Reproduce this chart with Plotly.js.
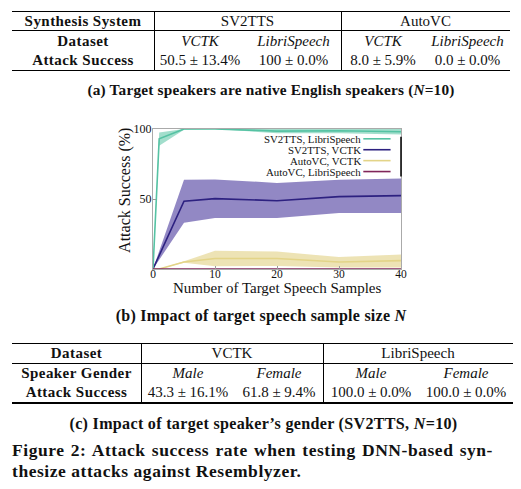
<!DOCTYPE html>
<html>
<head>
<meta charset="utf-8">
<script src="https://cdn.plot.ly/plotly-3.0.1.min.js"></script>
<style>
  html, body { margin: 0; padding: 0; background: #fff; }
  body { width: 521px; height: 489px; position: relative; overflow: hidden;
         font-family: "Liberation Serif", serif; color: #111; }
  .abs { position: absolute; }
  .cell { position: absolute; text-align: center; font-family: "Liberation Serif", serif; font-size: 15px; line-height: 20px; height: 20px; white-space: nowrap; }
  .b { font-weight: bold; letter-spacing: 0.45px; }
  .i { font-style: italic; }
  .rule { position: absolute; background: #000; }
  .cap { position: absolute; text-align: center; font-family: "Liberation Serif", serif; font-weight: bold;
         line-height: 20px; height: 20px; white-space: nowrap; }
  .fig { position: absolute; left: 12px; font-family: "Liberation Serif", serif; font-weight: bold; font-size: 17.5px; line-height: 20px; height: 20px;
         white-space: nowrap; letter-spacing: 0.55px; }
</style>
</head>
<body>
<div id="root"></div>
<div id="chart" class="abs" style="left:90px; top:110px; width:330px; height:195px;"></div>
<script>
// ---------- Table (a) data ----------
const tableA_systems = ["SV2TTS", "AutoVC"];
const tableA_datasets = ["VCTK", "LibriSpeech", "VCTK", "LibriSpeech"];
const tableA_success = ["50.5 ± 13.4%", "100 ± 0.0%", "8.0 ± 5.9%", "0.0 ± 0.0%"];
const tableA_rowLabels = ["Synthesis System", "Dataset", "Attack Success"];

// ---------- Table (c) data ----------
const tableC_datasets = ["VCTK", "LibriSpeech"];
const tableC_genders = ["Male", "Female", "Male", "Female"];
const tableC_success = ["43.3 ± 16.1%", "61.8 ± 9.4%", "100.0 ± 0.0%", "100.0 ± 0.0%"];
const tableC_rowLabels = ["Dataset", "Speaker Gender", "Attack Success"];

// ---------- Chart data ----------
const xAll = [0, 1, 5, 10, 20, 30, 40];
const xVctk = [0, 5, 10, 20, 30, 40];
const sv2ttsLibri = [0, 93, 100, 100, 98.5, 98.8, 98];
const sv2ttsLibriLo = [0, 88, 99.5, 100, 97, 97, 96];
const sv2ttsLibriHi = [0, 97.5, 100, 100, 100, 100, 100];
const sv2ttsVctk = [0, 48.4, 50.3, 48.8, 51.7, 52.4];
const sv2ttsVctkLo = [0, 33, 36.5, 36.5, 40, 40];
const sv2ttsVctkHi = [0, 63.8, 64, 61.5, 63.8, 64.6];
const autovcVctk = [0, 0, 5, 7.5, 7.5, 5, 6];
const autovcVctkLo = [0, 0, 4.5, 2, 2.2, 1, 1];
const autovcVctkHi = [0, 0, 5.5, 13, 12.5, 8.5, 10.3];
const autovcLibri = [0, 0, 0, 0, 0, 0, 0];
const legendNames = ["SV2TTS, LibriSpeech", "SV2TTS, VCTK", "AutoVC, VCTK", "AutoVC, LibriSpeech"];
const xTicks = [0, 10, 20, 30, 40];
const yTicks = [50, 100];

// ---------- Build tables ----------
const root = document.getElementById('root');
function add(html) { root.insertAdjacentHTML('beforeend', html); }
function cell(text, cls, left, width, cy) {
  add(`<div class="cell ${cls}" style="left:${left}px;width:${width}px;top:${cy - 10}px">${text}</div>`);
}
function rule(x, y, w, h) { add(`<div class="rule" style="left:${x}px;top:${y}px;width:${w}px;height:${h}px"></div>`); }
function caption(html, cx, cy, size, ls) {
  add(`<div class="cap" style="left:${cx - 260}px;width:520px;top:${cy - 10}px;font-size:${size}px;letter-spacing:${ls}px">${html}</div>`);
}

// Table (a)
(function () {
  const L = 12, R = 510, top = 10.5, mid = 29.6, bot = 69.5;
  rule(L, top, R - L, 1.6); rule(L, mid, R - L, 0.9); rule(L, bot, R - L, 1.6);
  rule(153.5, top, 1, bot - top + 1.6); rule(340.5, top, 1, bot - top + 1.6);
  const rows = [20.5, 40.5, 59.5];
  tableA_rowLabels.forEach((t, k) => cell(t, 'b', L, 142, rows[k]));
  cell(tableA_systems[0], '', 154, 187, rows[0]);
  cell(tableA_systems[1], '', 341, 169, rows[0]);
  const cols = [[154, 92], [246, 95], [341, 84], [425, 85]];
  cols.forEach((c, k) => {
    cell(tableA_datasets[k], 'i', c[0], c[1], rows[1]);
    cell(tableA_success[k], '', c[0], c[1], rows[2]);
  });
})();
caption('(a) Target speakers are native English speakers (<i>N</i>=10)', 271, 90, 15.3, 0.2);
caption('(b) Impact of target speech sample size <i>N</i>', 261, 316, 16, 0.25);

// Table (c)
(function () {
  const L = 12, R = 513, top = 342.5, mid = 362.8, bot = 402;
  rule(L, top, R - L, 1.6); rule(L, mid, R - L, 0.9); rule(L, bot, R - L, 1.6);
  rule(140.5, top, 1, bot - top + 1.6); rule(322.5, top, 1, bot - top + 1.6);
  const rows = [353, 372.5, 392];
  tableC_rowLabels.forEach((t, k) => cell(t, 'b', L, 129, rows[k]));
  cell(tableC_datasets[0], '', 141, 182, rows[0]);
  cell(tableC_datasets[1], '', 323, 190, rows[0]);
  const cols = [[141, 94], [235, 88], [323, 96], [419, 94]];
  cols.forEach((c, k) => {
    cell(tableC_genders[k], 'i', c[0], c[1], rows[1]);
    cell(tableC_success[k], '', c[0], c[1], rows[2]);
  });
})();
caption('(c) Impact of target speaker’s gender (SV2TTS, <i>N</i>=10)', 263.5, 424, 16.1, 0.3);
add(`<div class="fig" style="top:${450 - 10}px;width:481px;text-align:justify;text-align-last:justify">Figure 2: Attack success rate when testing DNN-based syn-</div>`);
add(`<div class="fig" style="top:${471 - 10}px">thesize attacks against Resemblyzer.</div>`);

// ---------- Chart ----------
const cTeal = '#55c2a3', cBlue = '#2d2180', cYel = '#e3d488', cMar = '#80265a';
function band(x, lo, hi, fill) {
  return [
    { x: x, y: lo, type: 'scatter', mode: 'lines', line: { width: 0 }, hoverinfo: 'skip', showlegend: false },
    { x: x, y: hi, type: 'scatter', mode: 'lines', line: { width: 0 }, fill: 'tonexty', fillcolor: fill, hoverinfo: 'skip', showlegend: false }
  ];
}
function line(x, y, c) {
  return { x: x, y: y, type: 'scatter', mode: 'lines', line: { color: c, width: 1.6 }, showlegend: false };
}
const traces = [].concat(
  band(xAll, autovcVctkLo, autovcVctkHi, 'rgba(222,204,120,0.55)'),
  band(xVctk, sv2ttsVctkLo, sv2ttsVctkHi, 'rgba(95,80,168,0.68)'),
  band(xAll, sv2ttsLibriLo, sv2ttsLibriHi, 'rgba(85,194,163,0.55)'),
  [line(xAll, autovcVctk, cYel), line(xVctk, sv2ttsVctk, cBlue), line(xAll, sv2ttsLibri, cTeal), line(xAll, autovcLibri, cMar)]
);

const legColors = [cTeal, cBlue, cYel, cMar];
const legY = [0.93, 0.852, 0.774, 0.696];
const annotations = legendNames.map((n, k) => ({
  xref: 'paper', yref: 'paper', x: 0.842, y: legY[k], xanchor: 'right', yanchor: 'middle', borderpad: 0,
  text: n, showarrow: false, font: { size: 10.8, color: '#111', family: 'Liberation Serif' }
}));
annotations.push({
  xref: 'paper', yref: 'paper', x: 0.5, y: -0.135, xanchor: 'center', yanchor: 'middle',
  text: 'Number of Target Speech Samples', showarrow: false, font: { size: 15, color: '#111', family: 'Liberation Serif' }
});
annotations.push({
  xref: 'paper', yref: 'paper', x: -0.113, y: 0.565, xanchor: 'center', yanchor: 'middle', textangle: -90,
  text: 'Attack Success (%)', showarrow: false, font: { size: 16, color: '#111', family: 'Liberation Serif' }
});
const shapes = legColors.map((c, k) => ({
  type: 'line', xref: 'paper', yref: 'paper', x0: 0.848, x1: 0.958, y0: legY[k], y1: legY[k],
  line: { color: c, width: 1.6 }
}));
shapes.push({ type: 'line', xref: 'paper', yref: 'paper', x0: 1, x1: 1, y0: 0.66, y1: 0.945, line: { color: '#000', width: 1.5 } });

Plotly.newPlot('chart', traces, {
  width: 330, height: 195,
  margin: { l: 63, r: 19, t: 19, b: 36 },
  paper_bgcolor: '#fff', plot_bgcolor: '#fff',
  font: { family: 'Liberation Serif', size: 12, color: '#111' },
  xaxis: { range: [0, 40], tickvals: xTicks, ticks: 'inside', ticklen: 3, tickcolor: '#999',
           showline: true, mirror: true, linecolor: '#aaa', linewidth: 1, showgrid: false, zeroline: false,
           tickfont: { size: 11.5 }, ticklabelstandoff: -6 },
  yaxis: { range: [0, 100], tickvals: yTicks, ticks: 'inside', ticklen: 3, tickcolor: '#999',
           showline: true, mirror: true, linecolor: '#aaa', linewidth: 1, showgrid: false, zeroline: false,
           tickfont: { size: 12 }, ticklabelstandoff: -2 },
  annotations: annotations,
  shapes: shapes,
  showlegend: false
}, { staticPlot: true, displayModeBar: false });
</script>
</body>
</html>
